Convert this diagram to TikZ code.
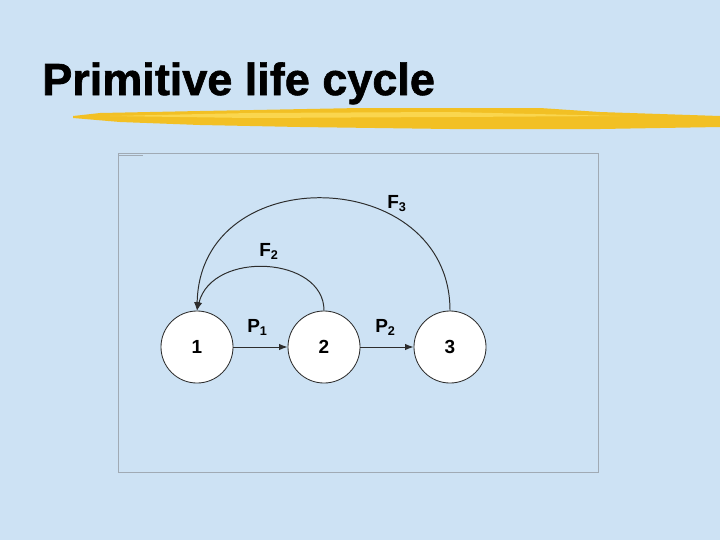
\documentclass[tikz,border=0pt]{standalone}
\usepackage{fontspec}
\setmainfont{Liberation Sans}
\newfontfamily\titlefont[FakeBold=1.4]{Liberation Sans Bold}
\usetikzlibrary{arrows.meta}
\definecolor{slideblue}{RGB}{205,226,244}
\definecolor{brushgold}{RGB}{242,192,36}
\definecolor{brushlight}{RGB}{250,214,78}
\definecolor{edgegray}{RGB}{45,45,45}
\definecolor{framegray}{RGB}{160,170,180}
\tikzset{vertex/.style={circle, draw=edgegray, fill=white, line width=.6pt, minimum size=1.8cm, inner sep=0pt, font=\fontsize{13.5}{13.5}\selectfont\bfseries}}
\tikzset{lbl/.style={anchor=base west, inner sep=0pt, font=\fontsize{13.5}{13.5}\selectfont\bfseries}}
\tikzset{flow/.style={draw=edgegray, line width=.7pt, -{Latex[length=6pt,width=4.5pt]}}}
\newcommand{\sublbl}[2]{#1\raisebox{-.35ex}{\fontsize{9}{9}\selectfont #2}}

\begin{document}
\begin{tikzpicture}[x=0.025cm,y=-0.025cm]
  \fill[slideblue] (0,0) rectangle (720,540);
  \useasboundingbox (0,0) rectangle (720,540);
  \fill[brushgold] (73,116) -- (100,113) -- (200,111) -- (360,108) -- (540,108)
    -- (600,112) -- (720,116) -- (720,127) -- (600,129) -- (450,129)
    -- (300,127) -- (200,125) -- (120,122) -- (73,118) -- cycle;
  \fill[brushlight] (110,116) -- (250,113) -- (450,112) -- (620,116)
    -- (450,117) -- (250,118) -- cycle;
  \node[anchor=base west, inner sep=0pt, font=\fontsize{32}{38}\selectfont\titlefont] (title) at (42,95) {Primitive life cycle};
  \draw[framegray, line width=.4pt] (118,153) rectangle (598,472);
  \draw[framegray, line width=.6pt] (118,155) -- (143,155);
  \foreach \x/\y/\lab in {
    197/347/1,
    324/347/2,
    450/347/3%
  } {
    \node[vertex] (n\lab) at (\x, \y) {\lab};
  }
  \draw[flow] (n1) -- (n2);
  \draw[flow] (n2) -- (n3);
  \draw[flow] (n2.north) .. controls (324,256) and (212,250) .. (n1.north);
  \draw[flow] (n3.north) .. controls (450,165) and (200,158) .. (n1.north);
  \node[lbl] (p1) at (247,332) {\sublbl{P}{1}};
  \node[lbl] (p2) at (375,332) {\sublbl{P}{2}};
  \node[lbl] (f2) at (259,256) {\sublbl{F}{2}};
  \node[lbl] (f3) at (387,208) {\sublbl{F}{3}};
\end{tikzpicture}
\end{document}
